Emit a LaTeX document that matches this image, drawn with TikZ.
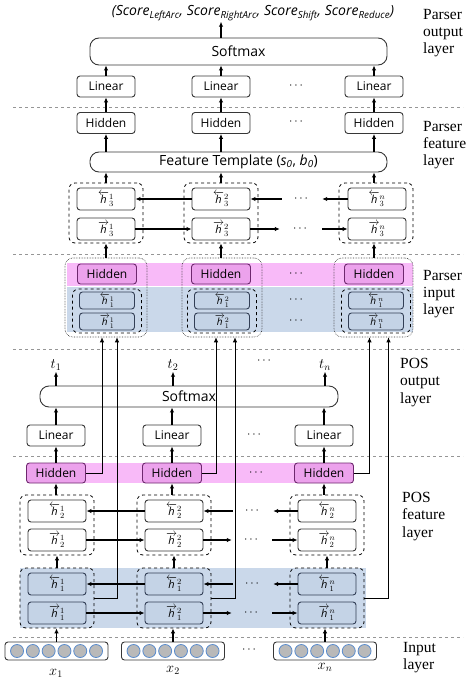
\documentclass[tikz,border=0pt]{standalone}
\usepackage{fontspec}
\setmainfont{Liberation Serif}
\setsansfont{Open Sans}
\usepackage{amsmath}
\usetikzlibrary{arrows.meta, positioning, calc}

\definecolor{linegray}{RGB}{55, 55, 55}
\definecolor{sepgray}{RGB}{150, 150, 150}
\definecolor{pinkband}{RGB}{248, 186, 248}
\definecolor{hidpink}{RGB}{236, 162, 236}
\definecolor{hidedge}{RGB}{110, 40, 110}
\definecolor{blueband}{RGB}{202, 216, 234}
\definecolor{bluebox}{RGB}{196, 211, 230}
\definecolor{blueedge}{RGB}{50, 62, 85}
\definecolor{cellgray}{RGB}{185, 185, 185}
\definecolor{celledge}{RGB}{90, 140, 205}

\newcommand{\hleft}[2]{$\overleftarrow{\textit{h}}{}^{#1}_{#2}$}
\newcommand{\hright}[2]{$\overrightarrow{\textit{h}}{}^{#1}_{#2}$}

\tikzset{
  unitbox/.style={draw=linegray, fill=white, rounded corners=3pt, line width=0.9pt, minimum width=58pt, minimum height=21pt, inner sep=0pt, font=\sffamily\fontsize{12}{14}\selectfont},
  widebox/.style={draw=linegray, fill=white, rounded corners=9pt, line width=0.9pt, inner sep=0pt, font=\sffamily\fontsize{14}{16}\selectfont},
  hidbox/.style={unitbox, draw=hidedge, fill=hidpink, minimum width=59pt, minimum height=20pt},
  statebox/.style={unitbox, minimum height=22pt, font=\sffamily\fontsize{11}{12}\selectfont},
  inbox/.style={statebox, draw=blueedge, fill=bluebox},
  pairbox/.style={draw=black, dashed, rounded corners=6pt, line width=0.8pt, inner sep=0pt, minimum width=74pt, minimum height=60pt},
  groupbox/.style={draw=black!80, densely dotted, rounded corners=8pt, line width=0.6pt, inner sep=0pt},
  flow/.style={-{Latex[length=5pt,width=4.5pt]}, line width=1.1pt, black},
  link/.style={flow, line width=0.8pt},
  sepline/.style={draw=sepgray, dashed, line width=0.6pt},
  dotsnode/.style={inner sep=0pt, minimum height=14pt, font=\fontsize{12}{14}\selectfont},
  layertext/.style={anchor=north west, align=left, inner sep=0pt, font=\fontsize{15.5}{17.3}\selectfont},
  cell/.style={circle, draw=celledge, fill=cellgray, line width=0.8pt, minimum size=13pt, inner sep=0pt},
  vecbox/.style={draw=linegray, fill=white, rounded corners=3pt, line width=0.9pt, minimum width=103pt, minimum height=18pt, inner sep=0pt},
  symtext/.style={inner sep=1pt, font=\fontsize{14}{16}\selectfont}
}

\begin{document}
\begin{tikzpicture}[x=1pt, y=-1pt]
  \useasboundingbox (0,0) rectangle (474,682);

  % Bands
  \fill[pinkband] (67,263) rectangle (413,286);
  \fill[blueband] (67,287) rectangle (413,332);
  \fill[pinkband] (27,463) rectangle (353,483);
  \fill[blueband] (20,568) rectangle (366,628);

  % Layer separators
  \draw[sepline] (13,107) -- (463,107);
  \draw[sepline] (13,254) -- (463,254);
  \draw[sepline] (13,349) -- (463,349);
  \draw[sepline] (13,456) -- (463,456);
  \draw[sepline] (13,637) -- (463,637);

  % Parser output layer
  \node[symtext, font=\sffamily\itshape\fontsize{14}{16}\selectfont] (score) at (253,13)
    {(Score\textsubscript{LeftArc}, Score\textsubscript{RightArc}, Score\textsubscript{Shift}, Score\textsubscript{Reduce})};
  \node[widebox, minimum width=297pt, minimum height=27pt] (psoft) at (238.5,51.5) {Softmax};
  \node[unitbox] (plin1) at (106,86.5) {Linear};
  \node[unitbox] (plin2) at (221,86.5) {Linear};
  \node[unitbox] (plin3) at (374,86.5) {Linear};
  \node[dotsnode] (pdlin) at (297,86) {$\cdots$};

  \draw[flow] (psoft.north -| plin2) -- (score.south -| plin2);
  \draw[flow] (plin1.north) -- (plin1.north |- psoft.south);
  \draw[flow] (plin2.north) -- (plin2.north |- psoft.south);
  \draw[flow] (plin3.north) -- (plin3.north |- psoft.south);

  % Parser feature layer
  \node[unitbox] (phid1) at (106,123) {Hidden};
  \node[unitbox] (phid2) at (221,123) {Hidden};
  \node[unitbox] (phid3) at (374,123) {Hidden};
  \node[dotsnode] (pdhid) at (297,122) {$\cdots$};
  \node[widebox, minimum width=297pt, minimum height=20pt] (ftemp) at (238.5,162)
    {Feature Template (\textit{s}\textsubscript{\textit{0}}, \textit{b}\textsubscript{\textit{0}})};

  \node[pairbox] (h3box1) at (106,213) {};
  \node[pairbox] (h3box2) at (221,213) {};
  \node[pairbox] (h3box3) at (376,213) {};
  \node[statebox] (h3b1) at (106,199) {\hleft{1}{3}};
  \node[statebox] (h3f1) at (106,229) {\hright{1}{3}};
  \node[statebox] (h3b2) at (221,199) {\hleft{2}{3}};
  \node[statebox] (h3f2) at (221,229) {\hright{2}{3}};
  \node[statebox] (h3b3) at (377,199) {\hleft{n}{3}};
  \node[statebox] (h3f3) at (377,229) {\hright{n}{3}};
  \node[dotsnode, minimum width=40pt] (pdb) at (302,199) {$\cdots$};
  \node[dotsnode, minimum width=42pt] (pdf) at (301,229) {$\cdots$};

  \draw[flow] (plin1.south |- phid1.north) -- (plin1.south);
  \draw[flow] (plin2.south |- phid2.north) -- (plin2.south);
  \draw[flow] (plin3.south |- phid3.north) -- (plin3.south);
  \draw[flow] (phid1.south |- ftemp.north) -- (phid1.south);
  \draw[flow] (phid2.south |- ftemp.north) -- (phid2.south);
  \draw[flow] (phid3.south |- ftemp.north) -- (phid3.south);
  \draw[flow] (h3box1.north -| phid1) -- (ftemp.south -| phid1);
  \draw[flow] (h3box2.north -| phid2) -- (ftemp.south -| phid2);
  \draw[flow] (h3box3.north -| phid3) -- (ftemp.south -| phid3);
  \draw[flow] (h3b2) -- (h3b1);
  \draw[flow] (pdb) -- (h3b2);
  \draw[flow] (h3b3) -- (pdb);
  \draw[flow] (h3f1) -- (h3f2);
  \draw[flow] (h3f2) -- (pdf);
  \draw[flow] (pdf) -- (h3f3);

  % Parser input layer
  \node[groupbox, minimum width=82pt, minimum height=79pt] (pinout1) at (106,297.5) {};
  \node[groupbox, minimum width=80pt, minimum height=79pt] (pinout2) at (222,297.5) {};
  \node[groupbox, minimum width=79pt, minimum height=79pt] (pinout3) at (373.5,297.5) {};
  \node[hidbox] (pinhid1) at (107,274) {Hidden};
  \node[hidbox] (pinhid2) at (221,274) {Hidden};
  \node[hidbox] (pinhid3) at (374,274) {Hidden};
  \node[pairbox, minimum width=69pt, minimum height=44pt] (pinbox1) at (107,311) {};
  \node[pairbox, minimum width=69pt, minimum height=44pt] (pinbox2) at (222,311) {};
  \node[pairbox, minimum width=69pt, minimum height=44pt] (pinbox3) at (376,311) {};
  \node[inbox, minimum width=55pt, minimum height=17pt, font=\sffamily\fontsize{10}{11}\selectfont] (pinb1) at (107,300.5) {\hleft{1}{1}};
  \node[inbox, minimum width=55pt, minimum height=17pt, font=\sffamily\fontsize{10}{11}\selectfont] (pinf1) at (107,321.5) {\hright{1}{1}};
  \node[inbox, minimum width=55pt, minimum height=17pt, font=\sffamily\fontsize{10}{11}\selectfont] (pinb2) at (222,300.5) {\hleft{2}{1}};
  \node[inbox, minimum width=55pt, minimum height=17pt, font=\sffamily\fontsize{10}{11}\selectfont] (pinf2) at (222,321.5) {\hright{2}{1}};
  \node[inbox, minimum width=55pt, minimum height=17pt, font=\sffamily\fontsize{10}{11}\selectfont] (pinb3) at (376,300.5) {\hleft{n}{1}};
  \node[inbox, minimum width=55pt, minimum height=17pt, font=\sffamily\fontsize{10}{11}\selectfont] (pinf3) at (376,321.5) {\hright{n}{1}};
  \node[dotsnode] (pdinh) at (297,274) {$\cdots$};
  \node[dotsnode] (pdinb) at (297,300) {$\cdots$};
  \node[dotsnode] (pdinf) at (297,321) {$\cdots$};

  \draw[flow] (pinout1.north -| phid1) -- (h3box1.south -| phid1);
  \draw[flow] (pinout2.north -| phid2) -- (h3box2.south -| phid2);
  \draw[flow] (pinout3.north -| phid3) -- (h3box3.south -| phid3);

  % POS output layer
  \node[symtext] (t1) at (56,365) {$t_1$};
  \node[symtext] (t2) at (173,365) {$t_2$};
  \node[symtext] (tn) at (325,365) {$t_n$};
  \node[dotsnode] (tdots) at (265,361) {$\cdots$};
  \node[widebox, minimum width=298pt, minimum height=21pt] (tsoft) at (189,396.5) {Softmax};
  \node[unitbox] (tlin1) at (56,435.5) {Linear};
  \node[unitbox] (tlin2) at (172,435.5) {Linear};
  \node[unitbox] (tlin3) at (324,435.5) {Linear};
  \node[dotsnode] (tdlin) at (255,435) {$\cdots$};

  \draw[flow] (tsoft.north -| t1) -- (t1.south);
  \draw[flow] (tsoft.north -| t2) -- (t2.south);
  \draw[flow] (tsoft.north -| tn) -- (tn.south);
  \draw[flow] (tlin1.north) -- (tlin1.north |- tsoft.south);
  \draw[flow] (tlin2.north) -- (tlin2.north |- tsoft.south);
  \draw[flow] (tlin3.north) -- (tlin3.north |- tsoft.south);

  % POS feature layer
  \node[hidbox] (thid1) at (56,473) {Hidden};
  \node[hidbox] (thid2) at (172,473) {Hidden};
  \node[hidbox] (thid3) at (324,473) {Hidden};
  \node[dotsnode] (tdhid) at (257,473) {$\cdots$};

  \node[pairbox] (h2box1) at (57,525) {};
  \node[pairbox] (h2box2) at (174,525) {};
  \node[pairbox] (h2box3) at (327,525) {};
  \node[statebox] (h2b1) at (57,511) {\hleft{1}{2}};
  \node[statebox] (h2f1) at (57,540) {\hright{1}{2}};
  \node[statebox] (h2b2) at (174,511) {\hleft{2}{2}};
  \node[statebox] (h2f2) at (174,540) {\hright{2}{2}};
  \node[statebox] (h2b3) at (327,511) {\hleft{n}{2}};
  \node[statebox] (h2f3) at (327,540) {\hright{n}{2}};
  \node[dotsnode, minimum width=40pt] (tdb2) at (253,511) {$\cdots$};
  \node[dotsnode, minimum width=40pt] (tdf2) at (252,540) {$\cdots$};

  \draw[flow] (tlin1.south |- thid1.north) -- (tlin1.south);
  \draw[flow] (tlin2.south |- thid2.north) -- (tlin2.south);
  \draw[flow] (tlin3.south |- thid3.north) -- (tlin3.south);
  \draw[flow] (h2box1.north -| thid1) -- (thid1.south);
  \draw[flow] (h2box2.north -| thid2) -- (thid2.south);
  \draw[flow] (h2box3.north -| thid3) -- (thid3.south);
  \draw[flow] (h2b2) -- (h2b1);
  \draw[flow] (tdb2) -- (h2b2);
  \draw[flow] (h2b3) -- (tdb2);
  \draw[flow] (h2f1) -- (h2f2);
  \draw[flow] (h2f2) -- (tdf2);
  \draw[flow] (tdf2) -- (h2f3);

  % POS shared BiLSTM
  \node[pairbox] (h1box1) at (57,598) {};
  \node[pairbox] (h1box2) at (174,598) {};
  \node[pairbox] (h1box3) at (327,598) {};
  \node[inbox] (h1b1) at (57,584) {\hleft{1}{1}};
  \node[inbox] (h1f1) at (57,613) {\hright{1}{1}};
  \node[inbox] (h1b2) at (174,584) {\hleft{2}{1}};
  \node[inbox] (h1f2) at (174,613) {\hright{2}{1}};
  \node[inbox] (h1b3) at (327,584) {\hleft{n}{1}};
  \node[inbox] (h1f3) at (327,613) {\hright{n}{1}};
  \node[dotsnode, minimum width=40pt] (tdb1) at (253,584) {$\cdots$};
  \node[dotsnode, minimum width=40pt] (tdf1) at (252,613) {$\cdots$};

  \draw[flow] (h1box1.north) -- (h2box1.south);
  \draw[flow] (h1box2.north) -- (h2box2.south);
  \draw[flow] (h1box3.north) -- (h2box3.south);
  \draw[flow] (h1b2) -- (h1b1);
  \draw[flow] (tdb1) -- (h1b2);
  \draw[flow] (h1b3) -- (tdb1);
  \draw[flow] (h1f1) -- (h1f2);
  \draw[flow] (h1f2) -- (tdf1);
  \draw[flow] (tdf1) -- (h1f3);

  % Input layer
  \node[vecbox] (in1) at (56.5,651) {};
  \node[vecbox] (in2) at (173,651) {};
  \node[vecbox] (in3) at (325,651) {};
  \foreach \b in {in1,in2,in3}
    \foreach \k in {0,...,5}
      \node[cell] (c-\b-\k) at ([xshift={12.5pt+\k*15.8pt}]\b.west) {};
  \node[dotsnode] (indots) at (250,650) {$\cdots$};
  \node[symtext] (x1) at (56,673) {$x_1$};
  \node[symtext] (x2) at (173,670) {$x_2$};
  \node[symtext] (xn) at (325,667) {$x_n$};

  \draw[flow] (in1.north) -- (h1box1.south -| in1);
  \draw[flow] (in2.north) -- (h1box2.south -| in2);
  \draw[flow] (in3.north) -- (h1box3.south -| in3);

  % Links into the parser
  \draw[link] (thid1.east) -| ([xshift=-4pt]pinout1.south);
  \draw[link] (h1box1.east) -| ([xshift=11pt]pinout1.south);
  \draw[link] (thid2.east) -| ([xshift=-6pt]pinout2.south);
  \draw[link] (h1box2.east) -| ([xshift=13pt]pinout2.south);
  \draw[link] (thid3.east) -| ([xshift=-4pt]pinout3.south);
  \draw[link] (h1box3.east) -| ([xshift=15pt]pinout3.south);

  % Layer names
  \node[layertext] (lpout) at (423,9) {Parser\\output\\layer};
  \node[layertext] (lpfeat) at (423,121) {Parser\\feature\\layer};
  \node[layertext] (lpin) at (423,270) {Parser\\input\\layer};
  \node[layertext] (lqout) at (400,358) {POS\\output\\layer};
  \node[layertext] (lqfeat) at (402,492) {POS\\feature\\layer};
  \node[layertext] (linput) at (403,642) {Input\\layer};
\end{tikzpicture}
\end{document}
